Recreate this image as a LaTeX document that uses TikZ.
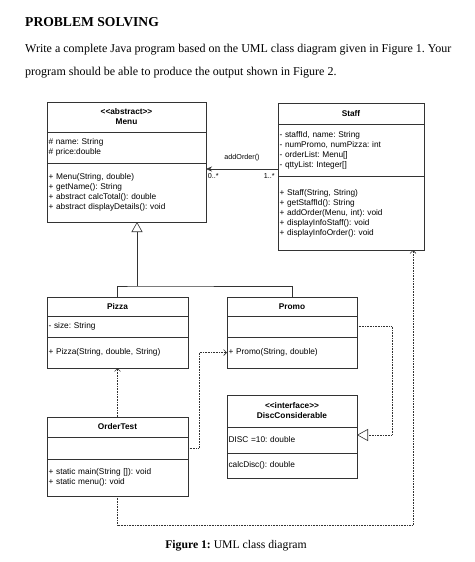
\documentclass[tikz,border=0pt]{standalone}
\usepackage{fontspec}
\setmainfont{Liberation Serif}
\newfontfamily\umlfont{Liberation Sans}
\usetikzlibrary{arrows.meta,calc}
\tikzset{
    box/.style={draw=black!80,line width=0.6pt,anchor=north west,inner sep=1.5pt,outer sep=0pt,
        align=left,font=\umlfont\fontsize{8.3}{10}\selectfont},
    head/.style={box,align=center,font=\umlfont\bfseries\fontsize{8.3}{10}\selectfont},
    line/.style={draw=black!80,line width=0.6pt},
    dep/.style={line,densely dotted,-{Straight Barb[length=3pt,width=6pt]}},
    real/.style={line,densely dotted,-{Triangle[open,length=11pt,width=12pt]}},
    txt/.style={anchor=base west,inner sep=0pt},
    small/.style={font=\umlfont\fontsize{7.2}{8}\selectfont},
}
\newcommand\stereo[1]{<\kern0pt<#1>\kern0pt>}
\frenchspacing

\begin{document}
\begin{tikzpicture}[x=1pt,y=-1pt]
    \useasboundingbox (0,0) rectangle (474,562);

    \node[txt,font=\bfseries\fontsize{13.6}{16}\selectfont] (title) at (25,26) {PROBLEM SOLVING};
    \node[txt,font=\fontsize{12}{14}\selectfont] (line1) at (25,52)
        {Write a complete Java program based on the UML class diagram given in Figure 1. Your};
    \node[txt,font=\fontsize{12}{14}\selectfont] (line2) at (25,75)
        {program should be able to produce the output shown in Figure 2.};

    % Menu
    \node[head,text width=156pt,minimum height=30pt] (menu-h) at (47,102) {\stereo{abstract}\\Menu};
    \node[box,text width=156pt,minimum height=31pt] (menu-a) at (menu-h.south west)
        {\# name: String\\\# price:double};
    \node[box,text width=156pt,minimum height=59pt] (menu-o) at (menu-a.south west)
        {+ Menu(String, double)\\+ getName(): String\\+ abstract calcTotal(): double\\+ abstract displayDetails(): void};

    % Staff
    \node[head,text width=143pt,minimum height=21pt] (staff-h) at (278,103) {Staff};
    \node[box,text width=143pt,minimum height=52pt] (staff-a) at (staff-h.south west)
        {- staffId, name: String\\- numPromo, numPizza: int\\- orderList: Menu[]\\- qttyList: Integer[]};
    \node[box,text width=143pt,minimum height=74pt] (staff-o) at (staff-a.south west)
        {+ Staff(String, String)\\+ getStaffId(): String\\+ addOrder(Menu, int): void\\+ displayInfoStaff(): void\\+ displayInfoOrder(): void};

    % Pizza
    \node[head,text width=138pt,minimum height=19pt] (pizza-h) at (47,297) {Pizza};
    \node[box,text width=138pt,minimum height=21pt] (pizza-a) at (pizza-h.south west) {- size: String};
    \node[box,text width=138pt,minimum height=31pt] (pizza-o) at (pizza-a.south west)
        {+ Pizza(String, double, String)};

    % Promo
    \node[head,text width=127pt,minimum height=19pt] (promo-h) at (227,297) {Promo};
    \node[box,text width=127pt,minimum height=21pt] (promo-a) at (promo-h.south west) {};
    \node[box,text width=127pt,minimum height=31pt] (promo-o) at (promo-a.south west)
        {+ Promo(String, double)};

    % DiscConsiderable
    \node[head,text width=127pt,minimum height=32pt] (disc-h) at (227,395) {\stereo{interface}\\DiscConsiderable};
    \node[box,text width=127pt,minimum height=26pt] (disc-a) at (disc-h.south west) {DISC =10: double};
    \node[box,text width=127pt,minimum height=25pt] (disc-o) at (disc-a.south west) {calcDisc(): double};

    % OrderTest
    \node[head,text width=138pt,minimum height=20pt] (test-h) at (47,417) {OrderTest};
    \node[box,text width=138pt,minimum height=22pt] (test-a) at (test-h.south west) {};
    \node[box,text width=138pt,minimum height=37pt] (test-o) at (test-a.south west)
        {+ static main(String []): void\\+ static menu(): void};

    % inheritance
    \coordinate (joint) at (137,286);
    \draw[line,-{Triangle[open,length=10pt,width=11pt]}] (joint) -- (joint |- menu-o.south);
    \draw[line] (pizza-h.north) |- (joint) -| (promo-h.north);

    % association
    \draw[line,-{Stealth[length=6pt,width=5pt]}] ([yshift=7pt]staff-a.south west)
        -- ([yshift=7pt]staff-a.south west -| menu-o.east)
        node[midway,above=4pt,small] {addOrder()}
        node[pos=0.12,below=1pt,small] {1..*}
        node[pos=0.9,below=1pt,small] {0..*};

    % dependencies
    \draw[dep] (test-h.north) -- (pizza-o.south);
    \draw[dep] (test-a.east) -- ++(11,0) |- (promo-o.west);
    \coordinate (corner) at (413,525);
    \draw[dep] (test-o.south) |- (corner) -- (corner |- staff-o.south);

    % realization
    \draw[real] (promo-a.east) -- ++(35,0) |- ([yshift=5pt]disc-a.east);

    \node[anchor=base,inner sep=0pt,font=\fontsize{11.7}{14}\selectfont] (caption) at (236,548)
        {\textbf{Figure 1:} UML class diagram};
\end{tikzpicture}
\end{document}
